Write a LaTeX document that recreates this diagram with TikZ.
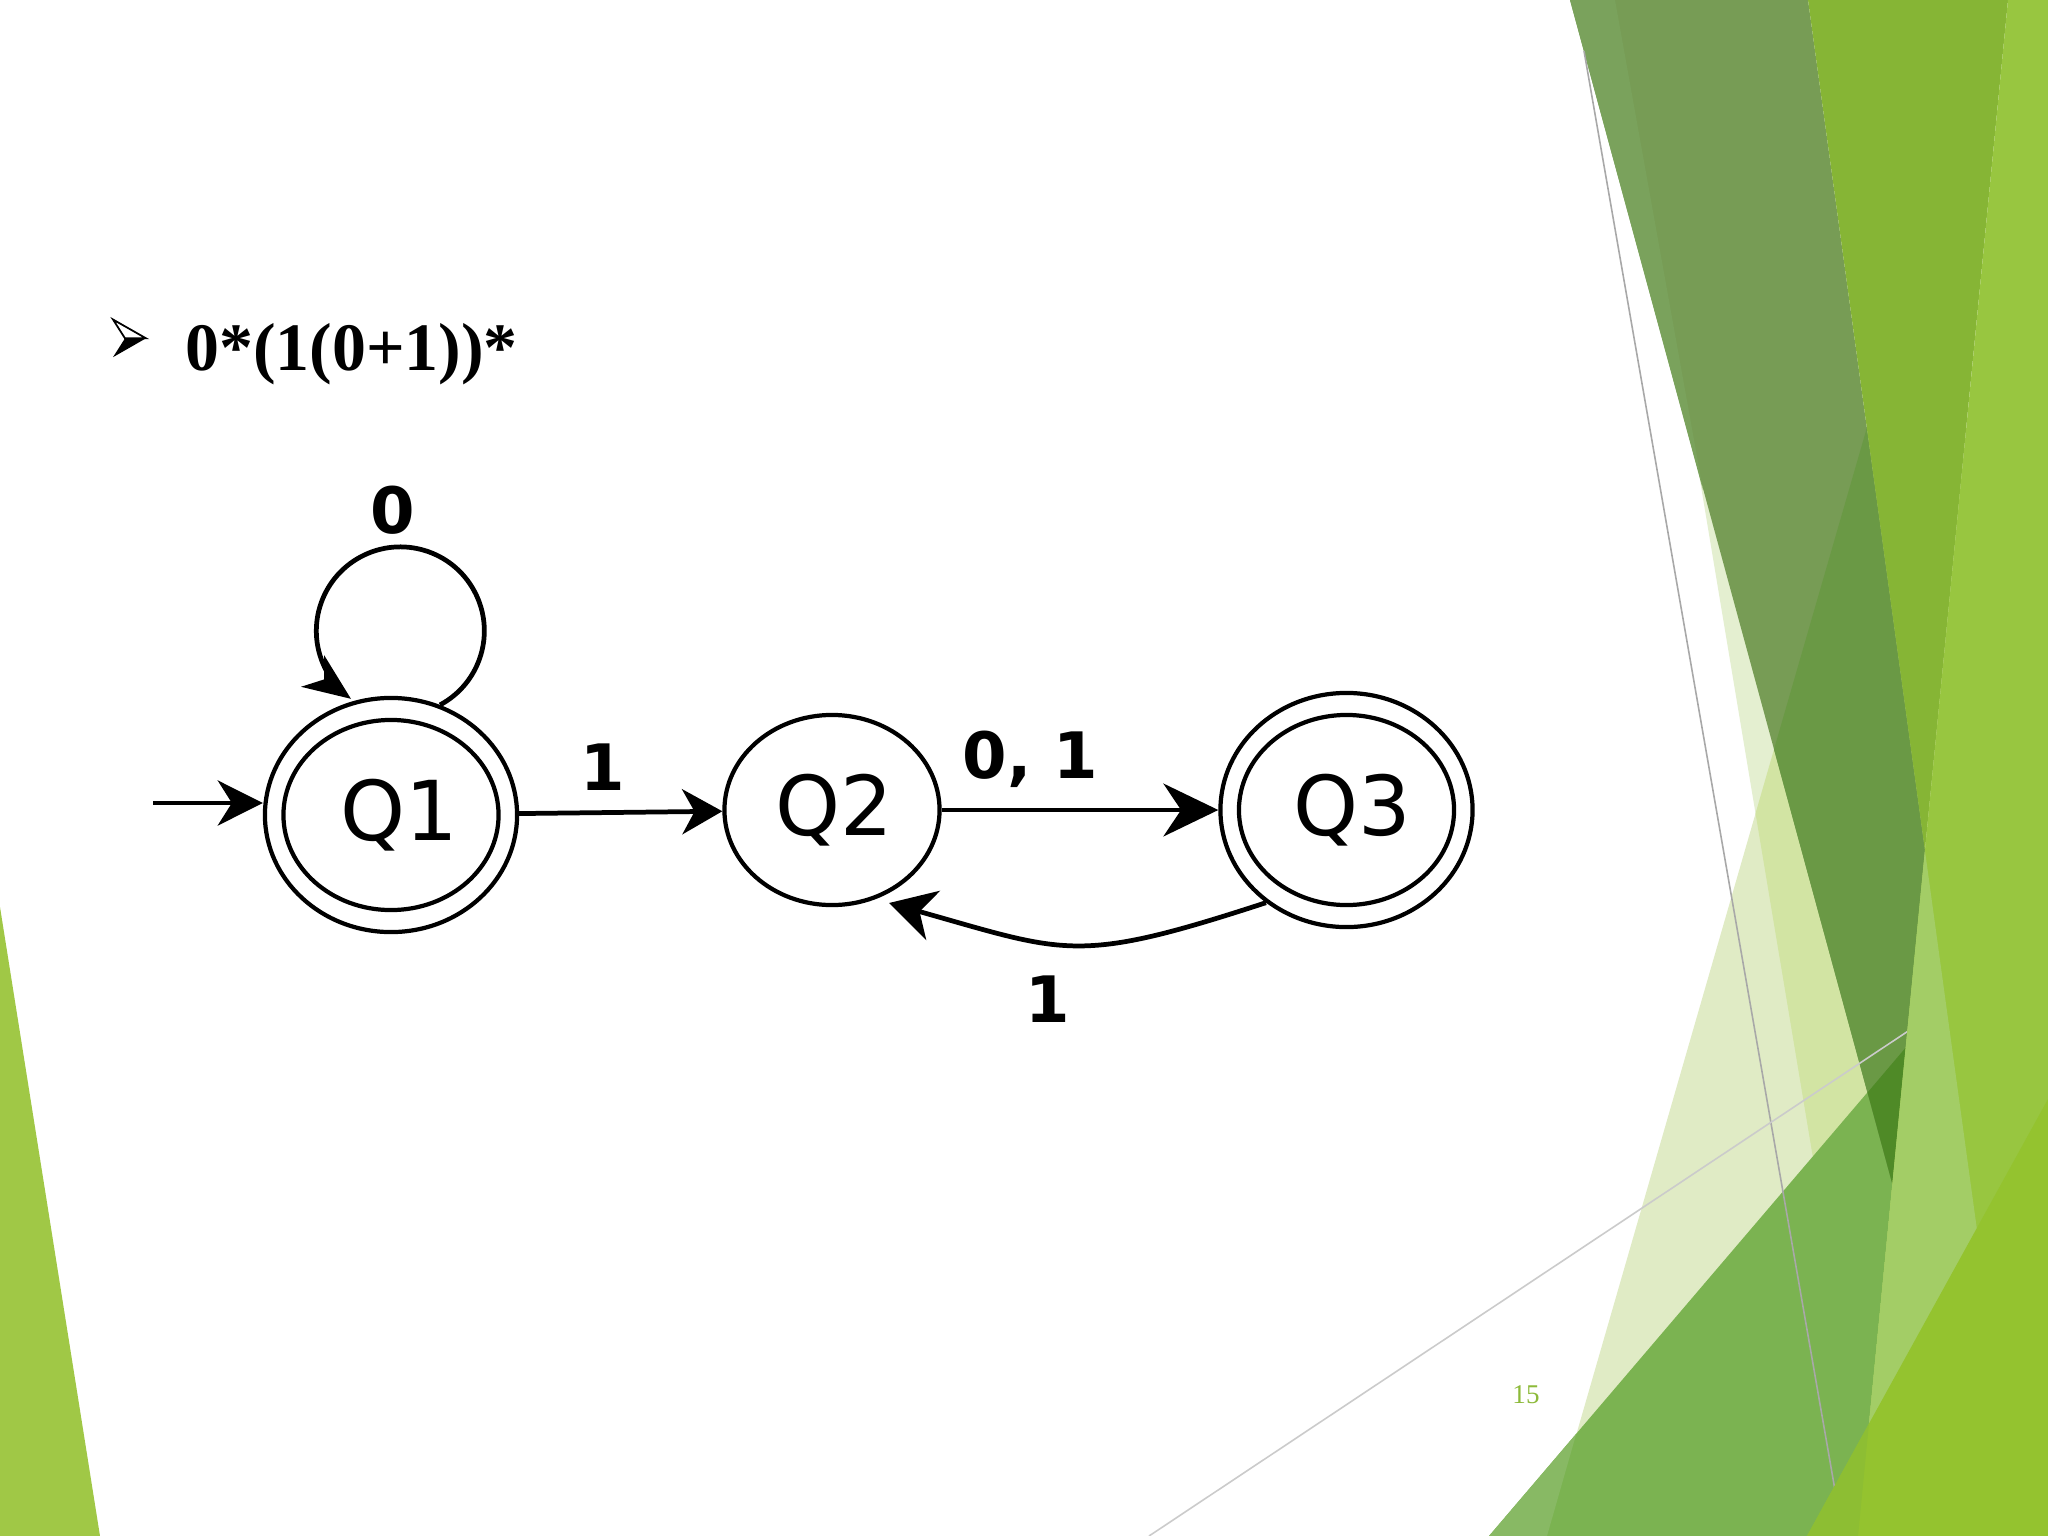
\documentclass[tikz,border=0pt]{standalone}
\usepackage{fontspec}
\setmainfont{Liberation Serif}
\newfontfamily\dejavu{DejaVu Sans}
\usetikzlibrary{shapes.geometric, arrows.meta}
\definecolor{cLeft}{HTML}{A0C846}
\definecolor{cSfive}{HTML}{E4EFD0}
\definecolor{cSfour}{HTML}{E0EBC5}
\definecolor{cSboth}{HTML}{D2E4A3}
\definecolor{cSsix}{HTML}{7BB351}
\definecolor{cSsixL}{HTML}{88B964}
\definecolor{cOlive}{HTML}{779C55}
\definecolor{cOliveL}{HTML}{7AA25C}
\definecolor{cOliveD}{HTML}{6A9945}
\definecolor{cVdark}{HTML}{4F8A27}
\definecolor{cGone}{HTML}{A8A8A8}
\definecolor{cGtwo}{HTML}{CBCBCB}
\definecolor{cBright}{HTML}{86B535}
\definecolor{cLight}{HTML}{98C640}
\definecolor{cAonly}{HTML}{A3CD66}
\definecolor{cSseven}{HTML}{94C32F}
\definecolor{cSsevenL}{HTML}{8DBE33}
\definecolor{cNum}{HTML}{8DBA3A}
\begin{document}
\begin{tikzpicture}[x=0.01cm,y=-0.01cm,
  stnode/.style={ellipse, draw=black, line width=1.2pt, minimum width=2.15cm, minimum height=1.9cm, inner sep=0pt},
  accring/.style={ellipse, draw=black, line width=1.2pt, minimum width=2.52cm, minimum height=2.34cm, inner sep=0pt},
  sttext/.style={font=\dejavu\fontsize{23.5}{28}\selectfont, inner sep=0pt},
  lab/.style={font=\dejavu\bfseries\fontsize{18.2}{22}\selectfont, anchor=base, inner sep=0pt},
  edgeln/.style={line width=1.35pt, draw=black},
]
\useasboundingbox (0,0) rectangle (2048,1536);
\fill[white] (0,0) rectangle (2048,1536);
% left decoration
\fill[cLeft] (0,907) -- (100,1536) -- (0,1536) -- cycle;
% right decoration
\fill[cSfive] (1698.8,473) -- (1876,1536) -- (2048,1536) -- (2048,473) -- cycle;
\fill[cSfour] (1866.8,428) -- (1547,1536) -- (2048,1536) -- (2048,428) -- cycle;
\begin{scope}
  \clip (1866.8,428) -- (1547,1536) -- (2048,1536) -- (2048,428) -- cycle;
  \fill[cSboth] (1698.8,473) -- (1876,1536) -- (2048,1536) -- (2048,473) -- cycle;
\end{scope}
\fill[cSsix] (1489,1536) -- (1905.6,1047.7) -- (1858,1536) -- cycle;
\fill[cSsixL] (1489,1536) -- (1576.3,1433.7) -- (1547,1536) -- cycle;
\fill[cOlive] (1570,0) -- (1808,0) -- (1924.9,850.3) -- (1892.3,1183.8) -- cycle;
\fill[cOliveL] (1570,0) -- (1615,0) -- (1703,490) -- cycle;
\fill[cOliveD] (1866.8,428) -- (1924.9,850.3) -- (1892.3,1183.8) -- (1774,749.3) -- cycle;
\fill[cVdark] (1867.5,1092.5) -- (1905.6,1047.7) -- (1892.3,1183.8) -- cycle;
\draw[cGone, line width=0.45pt] (1584,51) -- (1843,1536);
\draw[cGtwo, line width=0.45pt] (1149,1536) -- (2048,938);
\fill[cBright] (1808,0) -- (2008,0) -- (1924.9,850.3) -- cycle;
\fill[cLight] (2008,0) -- (2048,0) -- (2048,1536) -- (1858,1536) -- cycle;
\fill[cAonly] (1924.9,850.3) -- (2019,1536) -- (1858,1536) -- cycle;
\fill[cSseven] (1807,1536) -- (2048,1099) -- (2048,1536) -- cycle;
\fill[cSsevenL] (1807,1536) -- (1868.9,1423.8) -- (1858,1536) -- cycle;
% title
\filldraw[fill=white, draw=black, line width=0.5pt] (113,319.5) -- (146,338.3) -- (125,338.3) -- cycle;
\fill[black] (125,338.3) -- (146,338.3) -- (113,357.2) -- cycle;
\node[anchor=base west, inner sep=0pt, font=\bfseries\fontsize{19.3}{23}\selectfont] (title) at (184.5,370) {0*(1(0+1))*};
% page number
\node[anchor=base, inner sep=0pt, text=cNum, font=\fontsize{7.7}{9}\selectfont] (pg) at (1526,1403.3) {15};
% automaton
\node[accring] (q1o) at (391,815) {};
\node[stnode, label={[sttext, xshift=2.3pt]center:Q1}] (q1) at (391,815) {};
\node[stnode, label={[sttext, xshift=0.6pt]center:Q2}] (q2) at (832,810) {};
\node[accring] (q3o) at (1346.5,810) {};
\node[stnode, label={[sttext, xshift=1.7pt]center:Q3}] (q3) at (1346.5,810) {};
\coordinate (start) at (153,803);
\draw[edgeln, -{Stealth[length=12.8pt, width=12.8pt, inset=4pt]}] (start) -- (start -| q1o.west);
\draw[edgeln, -{Stealth[length=11.4pt, width=12.8pt, inset=3.5pt]}] (q1o) -- (q2);
\draw[edgeln, -{Stealth[length=15.6pt, width=15pt, inset=5pt]}] (q2) -- (q3o);
\draw[edgeln, -{Stealth[length=13.4pt, width=11pt, inset=4pt]}] (q1o.66.5) arc[start angle=61.8, end angle=-234, radius=84];
\draw[edgeln, shorten >=4pt, -{Stealth[length=13pt, width=14.5pt, inset=4pt]}] (q3o.229.2) .. controls +(-190,62) and +(192,54) .. (q2.296.6);
\node[lab] (l1) at (602.5,790) {1};
\node[lab] (l01) at (1030.5,778) {0, 1};
\node[lab] (l1b) at (1047.5,1022) {1};
\node[lab] (l0) at (392.5,533) {0};
\end{tikzpicture}
\end{document}
